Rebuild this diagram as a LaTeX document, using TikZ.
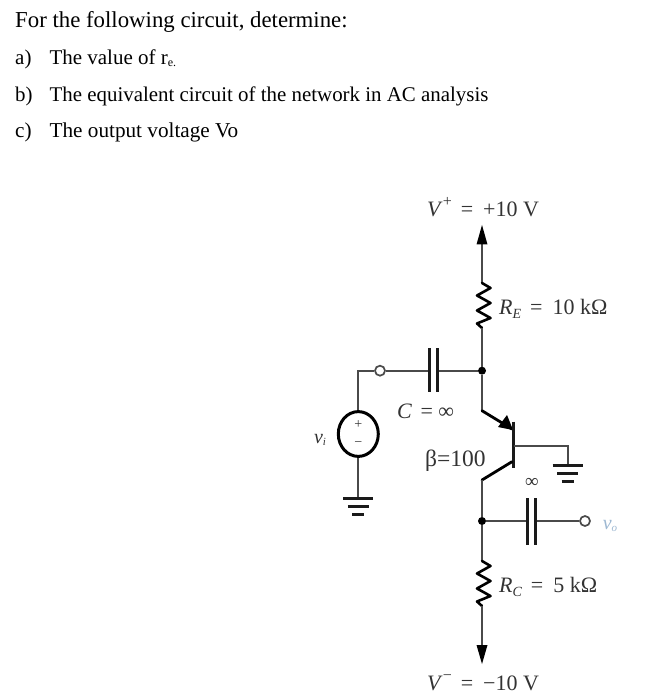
\documentclass[tikz,border=0pt]{standalone}
\usepackage{fontspec}
\setmainfont{Liberation Serif}
\definecolor{wire}{HTML}{4A4A4A}
\definecolor{ink}{HTML}{1A1A1A}
\definecolor{lab}{HTML}{333333}
\definecolor{vo}{HTML}{9DB8D2}
\tikzset{
  wireline/.style={draw=wire,line width=1.7pt},
  plate/.style={draw=ink,line width=3pt},
  zig/.style={draw=black,line width=2.6pt,line join=round,line cap=round},
  dot/.style={circle,fill=black,inner sep=0pt,minimum size=8pt},
  terminal/.style={circle,draw=wire,fill=white,line width=1.7pt,inner sep=0pt,minimum size=10pt},
  headtext/.style={anchor=base west,inner sep=0pt,text=black,font=\fontsize{21}{21}\selectfont},
  circtext/.style={anchor=base west,inner sep=0pt,text=lab,font=\fontsize{22}{22}\selectfont},
}
\newcommand{\sbs}[1]{\raisebox{-4pt}{\fontsize{14}{14}\selectfont\itshape #1}}
\newcommand{\sps}[1]{\raisebox{10pt}{\fontsize{16}{16}\selectfont #1}}
\newcommand{\gp}[1]{\hspace{#1}}
\begin{document}
\begin{tikzpicture}[x=1pt,y=-1pt]
\useasboundingbox[fill=white] (0,0) rectangle (648,700);
% header text
\node[headtext,font=\fontsize{22.8}{22.8}\selectfont] (h0) at (15,28) {For the following circuit, determine:};
\node[headtext] (h1) at (15,65) {a)\hspace{18pt}The value of r\raisebox{-2pt}{\fontsize{12}{12}\selectfont e.}};
\node[headtext,font=\fontsize{20.9}{21}\selectfont] (h2) at (15,102) {b)\hspace{17pt}The equivalent circuit of the network in AC analysis};
\node[headtext,font=\fontsize{21.2}{21}\selectfont] (h3) at (15,138) {c)\hspace{18pt}The output voltage Vo};
% named points
\coordinate (vp) at (482,225);
\coordinate (re1) at (482,283);
\coordinate (re2) at (482,328);
\node[dot] (j1) at (482,370.7) {};
\coordinate (em1) at (482,410.7);
\coordinate (em2) at (512,429);
\coordinate (col1) at (512,461.7);
\coordinate (col2) at (482,480);
\node[dot] (j2) at (482,521) {};
\coordinate (rc1) at (482,561);
\coordinate (rc2) at (482,606);
\coordinate (vm) at (482,664);
\node[terminal] (tin) at (380,370.7) {};
\node[terminal] (tout) at (585,521) {};
\coordinate (corner) at (358.3,370.7);
\node[circle,draw=black,line width=3pt,minimum width=40pt,inner sep=0pt,yscale=1.12] (src) at (358.3,434) {};
\coordinate (g1) at (358.3,498.7);
\coordinate (baseL) at (513.5,446);
\coordinate (baseC) at (567.7,446);
\coordinate (g2) at (567.7,465.7);
\coordinate (c1a) at (429,370.7); \coordinate (c1b) at (437.7,370.7);
\coordinate (c2a) at (527,521); \coordinate (c2b) at (535.7,521);
% supply and resistors
\draw[wireline] (re1) -- (482,240);
\draw[draw=none,fill=black] (vp) -- (487.5,244.5) -- (476.5,244.5) -- cycle;
\draw[zig] (re1) -- (490.5,288) -- (477,295.5) -- (490.5,303) -- (477,310.5) -- (490.5,318) -- (477,323.5) -- (re2);
\draw[wireline] (re2) -- (j1);
\draw[wireline] (j1) -- (em1);
\draw[line width=2.8pt,draw=black,line cap=round] (em1) -- (em2);
\draw[draw=none,fill=black] (513,430) -- (498,427) -- (507,415) -- cycle;
\draw[line width=3pt,draw=ink] (513.5,421.7) -- (513.5,468);
\draw[wireline] (baseL) -- (baseC) -- (g2);
\draw[line width=2.8pt,draw=black,line cap=round] (col1) -- (col2);
\draw[wireline] (col2) -- (j2);
\draw[wireline] (j2) -- (rc1);
\draw[zig] (rc1) -- (490.5,566) -- (477,573.5) -- (490.5,581) -- (477,588.5) -- (490.5,596) -- (477,601.5) -- (rc2);
\draw[wireline] (rc2) -- (482,648);
\draw[draw=none,fill=black] (vm) -- (487.5,645) -- (476.5,645) -- cycle;
% input
\draw[wireline] (src) -- (corner) -- (tin);
\draw[wireline] (tin) -- (c1a);
\draw[wireline] (c1b) -- (j1);
\draw[plate] (429,348) -- (429,392);
\draw[plate] (437.7,348) -- (437.7,392);
\draw[wireline] (src) -- (g1);
% output
\draw[wireline] (j2) -- (c2a);
\draw[wireline] (c2b) -- (tout);
\draw[plate] (527,498) -- (527,545);
\draw[plate] (535.7,498) -- (535.7,545);
% grounds
\foreach \c/\x/\y in {a/358.3/498.7,b/567.7/465.7}{
  \draw[line width=3pt,draw=ink] (\x-15,\y) -- (\x+15,\y);
  \draw[line width=3pt,draw=ink] (\x-10.5,\y+7.5) -- (\x+10.5,\y+7.5);
  \draw[line width=3.2pt,draw=ink] (\x-6,\y+15.5) -- (\x+6,\y+15.5);
}
% source signs
\node[inner sep=0pt,text=lab,font=\fontsize{14}{14}\selectfont] (plus) at (358.3,425) {+};
\node[inner sep=0pt,text=lab,font=\fontsize{14}{14}\selectfont] (minus) at (358.3,444) {−};
% labels
\node[circtext] (lvp) at (427,217) {\textit{V}\sps{+}\gp{9pt}=\gp{10pt}+10 V};
\node[circtext] (lre) at (499,314) {\textit{R}\sbs{E}\gp{9pt}=\gp{10pt}10 kΩ};
\node[circtext] (lc) at (397,418) {\textit{C}\hspace{3pt} = ∞};
\node[circtext,font=\fontsize{23.5}{23.5}\selectfont] (lb) at (425,466) {β=100};
\node[anchor=base,inner sep=0pt,text=lab,font=\fontsize{19}{19}\selectfont] (linf) at (532,487) {∞};
\node[anchor=base,inner sep=0pt,text=lab,font=\fontsize{20}{20}\itshape\selectfont] (lvi) at (320,443) {v\raisebox{-2pt}{\fontsize{11}{11}\selectfont i}};
\node[anchor=base,inner sep=0pt,text=vo,font=\fontsize{20}{20}\itshape\selectfont] (lvo) at (610,529) {v\raisebox{-2pt}{\fontsize{11}{11}\selectfont o}};
\node[circtext] (lrc) at (499,592) {\textit{R}\sbs{C}\gp{9pt}=\gp{10pt}5 kΩ};
\node[circtext] (lvm) at (427,690) {\textit{V}\sps{−}\gp{9pt}=\gp{10pt}−10 V};
\end{tikzpicture}
\end{document}
